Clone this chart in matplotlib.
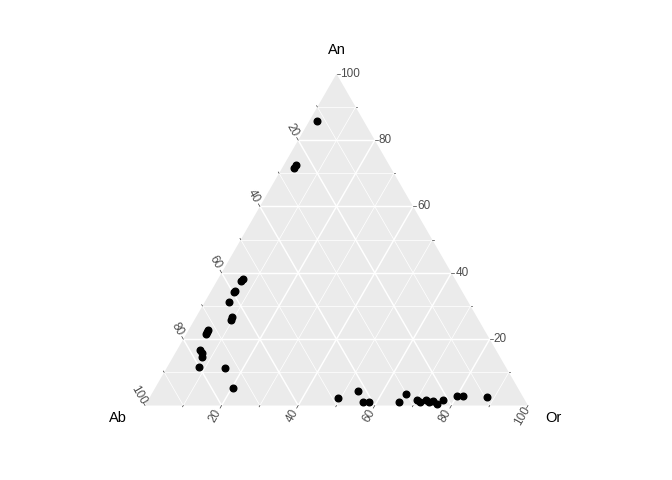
import numpy as np
import matplotlib
matplotlib.use('Agg')
import matplotlib.pyplot as plt
from matplotlib.patches import Polygon

plt.rcParams['font.family'] = ['Liberation Sans', 'DejaVu Sans']

# feldspar compositions in percent (Ab, An, Or)
ab = [12.2, 25.3, 24.3, 55.4, 56.2, 59.7, 59.3, 62.5, 63.9, 64.6,
      72.1, 73.3, 72.7, 77.3, 77.2, 77.8, 80.1, 73.5, 74.4,
      48.4, 42.2, 42.5, 40.9, 33.1, 30.1, 28.1, 27.6, 25.8, 25.3,
      24.1, 23.5, 21.3, 17.1, 15.5, 9.4]
an = [85.8, 71.6, 72.5, 38.1, 37.5, 34.2, 34.5, 31.2, 26.7, 25.8,
      22.8, 21.6, 22.2, 16.7, 15.8, 14.6, 11.6, 11.3, 5.3,
      2.3, 4.4, 1.1, 1.1, 1.1, 3.5, 1.7, 1.1, 1.7, 1.1,
      1.4, 0.5, 1.7, 2.9, 2.9, 2.6]
orth = [2.0, 3.1, 3.2, 6.5, 6.3, 6.1, 6.2, 6.3, 9.4, 9.6,
        5.1, 5.1, 5.1, 6.0, 7.0, 7.6, 8.3, 15.2, 20.3,
        49.3, 53.4, 56.4, 58.0, 65.8, 66.4, 70.2, 71.3, 72.5, 73.6,
        74.5, 76.0, 77.0, 80.0, 81.6, 88.0]

breaks = [20, 40, 60, 80, 100]
minor = [10, 30, 50, 70, 90]

S3 = np.sqrt(3) / 2


def tern(a, n, o):
    a, n, o = np.asarray(a, float), np.asarray(n, float), np.asarray(o, float)
    t = a + n + o
    return (o + n / 2) / t, n * S3 / t


fig = plt.figure(figsize=(7, 5), dpi=96)
W = 383.0  # triangle width in px
ax = fig.add_axes([145 / 672, 74.5 / 480, W / 672, W * S3 / 480])
ax.set_xlim(0, 1)
ax.set_ylim(0, S3)
ax.axis('off')

ax.add_patch(Polygon([(0, 0), (1, 0), (0.5, S3)], closed=True,
                     facecolor='#EBEBEB', edgecolor='none', zorder=0))

# grid lines
for vals, lw in [(minor, 0.55), (breaks[:-1], 1.1)]:
    for v in vals:
        f = v / 100
        # An constant
        x, y = tern([1 - f, 0], [f, f], [0, 1 - f])
        ax.plot(x, y, color='white', lw=lw, zorder=1, solid_capstyle='butt')
        # Ab constant
        x, y = tern([f, f], [0, 1 - f], [1 - f, 0])
        ax.plot(x, y, color='white', lw=lw, zorder=1, solid_capstyle='butt')
        # Or constant
        x, y = tern([1 - f, 0], [0, 1 - f], [f, f])
        ax.plot(x, y, color='white', lw=lw, zorder=1, solid_capstyle='butt')

px = 1 / W
tick_col = '#333333'
lab_col = '#4D4D4D'
dir_an = np.array([1.0, 0.0])
dir_ab = np.array([-0.5, S3])
dir_or = np.array([-0.5, -S3])

for v in breaks + minor:
    f = v / 100
    ln = 3 * px if v in breaks else 1.5 * px
    # An ticks on right edge
    x0, y0 = tern(0, f, 1 - f)
    ax.plot([x0, x0 + dir_an[0] * ln], [y0, y0 + dir_an[1] * ln],
            color=tick_col, lw=0.5, clip_on=False)
    # Ab ticks on left edge
    x1, y1 = tern(f, 1 - f, 0)
    ax.plot([x1, x1 + dir_ab[0] * ln], [y1, y1 + dir_ab[1] * ln],
            color=tick_col, lw=0.5, clip_on=False)
    # Or ticks on bottom edge
    x2, y2 = tern(1 - f, 0, f)
    ax.plot([x2, x2 + dir_or[0] * ln], [y2, y2 + dir_or[1] * ln],
            color=tick_col, lw=0.5, clip_on=False)
    if v in breaks:
        ax.annotate(str(v), (x0, y0), xytext=(3.0, 0), textcoords='offset points',
                    ha='left', va='center', fontsize=8.8, color=lab_col)
        d = 9.0
        ax.annotate(str(v), (x1, y1), xytext=(dir_ab[0] * d, dir_ab[1] * d),
                    textcoords='offset points', ha='center', va='center',
                    rotation=-60, fontsize=8.8, color=lab_col)
        ax.annotate(str(v), (x2, y2), xytext=(dir_or[0] * d, dir_or[1] * d),
                    textcoords='offset points', ha='center', va='center',
                    rotation=60, fontsize=8.8, color=lab_col)

# axis titles
ax.annotate('An', (0.5, S3), xytext=(0, 18), textcoords='offset points',
            ha='center', va='center', fontsize=11, color='black')
ax.annotate('Ab', (0, 0), xytext=(-20, -9.5), textcoords='offset points',
            ha='center', va='center', fontsize=11, color='black')
ax.annotate('Or', (1, 0), xytext=(19, -9.5), textcoords='offset points',
            ha='center', va='center', fontsize=11, color='black')

x, y = tern(ab, an, orth)
ax.plot(x, y, 'o', color='black', ms=5, mec='black', zorder=3, clip_on=False)

fig.savefig('out.png', dpi=96)
